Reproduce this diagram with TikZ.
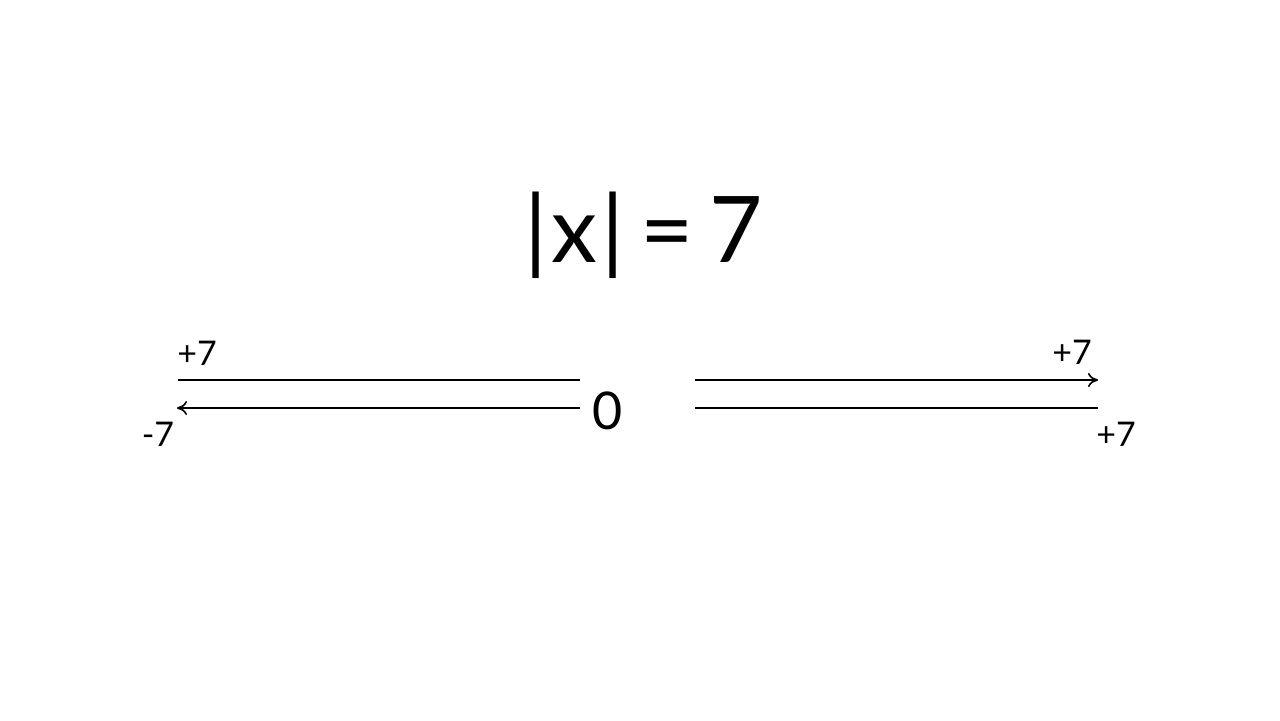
\documentclass[tikz,border=0pt]{standalone}
\usepackage{fontspec}
\setmainfont{Lato}
\usetikzlibrary{arrows.meta}
\begin{document}
\begin{tikzpicture}[x=0.5pt,y=-0.5pt,
  line/.style={line width=1pt,black},
  tip/.style={-{To[length=5pt,width=7pt,line width=0.8pt]}},
  lbl/.style={inner sep=0pt,font=\fontsize{17}{20}\selectfont}]
\useasboundingbox (0,0) rectangle (1280,720);
\node[inner sep=0pt,font=\fontsize{46}{50}\selectfont,anchor=base] (eq) at (644,262) {|\kern2ptx\kern2pt|\kern8pt=\kern8pt7};
\coordinate (tlA) at (178,380); \coordinate (tlB) at (580,380);
\coordinate (blA) at (580,408); \coordinate (blB) at (177,408);
\coordinate (trA) at (695,380); \coordinate (trB) at (1098,380);
\coordinate (brA) at (695,408); \coordinate (brB) at (1098,408);
\draw[line] (tlA) -- (tlB);
\draw[line,tip] (blA) -- (blB);
\draw[line,tip] (trA) -- (trB);
\draw[line] (brA) -- (brB);
\node[inner sep=0pt,font=\fontsize{26}{30}\selectfont] (zero) at (608,411) {0};
\node[lbl] (p1) at (197,353) {+7};
\node[lbl] (m1) at (158,434) {-7};
\node[lbl] (p2) at (1072,352) {+7};
\node[lbl] (p3) at (1116,434) {+7};
\end{tikzpicture}
\end{document}
